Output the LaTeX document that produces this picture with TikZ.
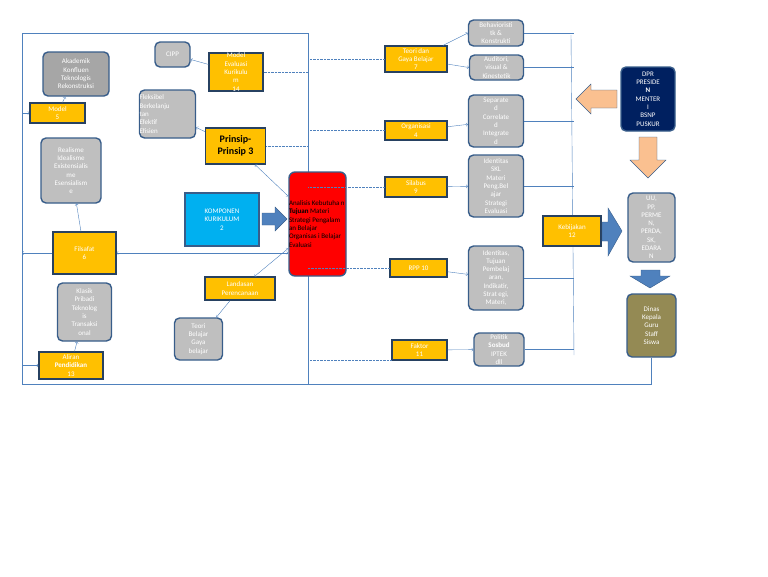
\documentclass[tikz,border=0pt]{standalone}
\usepackage{fontspec}
\setmainfont{Carlito}
\usepackage{tikz}
\usetikzlibrary{arrows}

\definecolor{kuning}{HTML}{FFC000}
\definecolor{abu}{HTML}{BFBFBF}
\definecolor{abutua}{HTML}{A6A6A6}
\definecolor{tepi}{HTML}{385D8A}
\definecolor{garis}{HTML}{4F81BD}
\definecolor{biru}{HTML}{00B0F0}
\definecolor{navy}{HTML}{002060}
\definecolor{zaitun}{HTML}{948A54}
\definecolor{persik}{HTML}{FAC090}

\newcommand{\kbox}[3]{\parbox[c][#2pt][c]{#1pt}{\centering #3}}

\begin{document}
\begin{tikzpicture}[x=1pt,y=-1pt,->,>=to,semithick,
    every node/.style={inner sep=0pt,font=\fontsize{7}{8.3}\selectfont,color=white},
    grey/.style={draw=tepi,line width=1.4pt,fill=abu,rounded corners=5pt},
    orange/.style={draw=tepi!70!black,line width=1.2pt,fill=kuning},
    link/.style={garis,thin},
    dots/.style={-,garis,thin,densely dotted},
    tree/.style={-,garis,thin},
    big/.style={-,draw=tepi,fill=garis,thin}]
\useasboundingbox (0,0) rectangle (768,576);
\coordinate (Fl) at (22,33);
\coordinate (Fr) at (308,384);
\coordinate (Vt) at (571,35);
\coordinate (Vb) at (574,355);
\draw[tree] (Fl) rectangle (Fr);
\draw[tree] (Vt) -- (Vb);
% kiri
\node[grey,fill=abutua] (Ak) at (76,74)  {\kbox{66}{44}{Akademik\\Konfluen\\Teknologis\\Rekonstruksi}};
\node[orange] (Mo) at (57.5,113) {\kbox{55}{20}{Model\\5}};
\node[grey] (Re) at (71,170.5) {\kbox{60}{65}{Realisme\\Idealisme\\Existensialis\\me\\Esensialism\\e}};
\node[orange] (Fi) at (84.5,253) {\kbox{63}{42}{Filsafat\\6}};
\node[grey] (Kl) at (84.5,312) {\kbox{54}{58}{Klasik\\Pribadi\\Teknolog\\is\\Transaksi\\onal}};
\node[orange] (Al) at (71,365.5) {\kbox{64}{27}{Aliran\\\textbf{Pendidikan}\\13}};
\node[grey] (CI) at (172.5,54.5) {\kbox{35}{25}{CIPP}};
\node[orange] (Ev) at (236,72) {\kbox{54}{38}{Model\\Evaluasi\\Kurikulu\\m\\14}};
\node[grey] (Fs) at (167.5,114) {\kbox{56}{48}{\raggedright Fleksibel\\Berkelanju\\tan\\Efektif\\Efisien}};
\node[orange] (Pr) at (235.5,146) {\kbox{60}{36}{\color{black}\fontsize{10}{12}\selectfont\bfseries Prinsip-\\Prinsip 3}};
\node[draw=tepi,line width=1.2pt,fill=biru] (Ko) at (222,219.5) {\kbox{74}{53}{KOMPONEN\\KURIKULUM\\2}};
\node[draw=tepi,line width=1.4pt,fill=red,rounded corners=6pt] (Rd) at (317.5,224)
  {\kbox{57}{104}{\color{black}\raggedright Analisis Kebutuha n \textbf{Tujuan} Materi Strategi Pengalam an Belajar Organisas i Belajar Evaluasi}};
\node[orange] (La) at (240,288.5) {\kbox{70}{23}{Landasan\\Perencanaan}};
\node[grey] (Te) at (198.5,339) {\kbox{48}{42}{Teori\\Belajar\\Gaya\\belajar}};
% kanan
\node[orange] (T7) at (416,59) {\kbox{62}{26}{Teori dan\\Gaya Belajar\\7}};
\node[grey] (Be) at (496,33) {\kbox{55}{26}{Behavioristi\\tk \&\\Konstrukti}};
\node[grey] (Au) at (496.5,67.5) {\kbox{54}{25}{Auditori,\\visual \&\\Kinestetik}};
\node[orange] (Or) at (416,130.5) {\kbox{62}{19}{Organisasi\\4}};
\node[grey] (Co) at (496,121) {\kbox{55}{52}{Separate\\d\\Correlate\\d\\Integrate\\d}};
\node[orange] (Si) at (416,187) {\kbox{62}{20}{Silabus\\9}};
\node[grey] (Id) at (496,186) {\kbox{55}{62}{Identitas\\SKL\\Materi\\Peng.Bel\\ajar\\Strategi\\Evaluasi}};
\node[orange] (Rp) at (418.5,268) {\kbox{57}{18}{RPP 10}};
\node[grey] (Tu) at (496,278) {\kbox{55}{64}{Identitas,\\Tujuan\\Pembelaj\\aran,\\Indikatir,\\Strat egi,\\Materi,}};
\node[orange] (Fa) at (419.5,350) {\kbox{55}{20}{Faktor\\11}};
\node[grey] (Po) at (499,349.5) {\kbox{50}{33}{Politik\\\textbf{Sosbud}\\IPTEK\\dll}};
\node[orange] (Kb) at (572,231) {\kbox{58}{30}{Kebijakan\\12}};
\node[grey,fill=navy] (DP) at (648,99) {\kbox{54}{64}{DPR\\PRESIDE\\\textbf{N}\\MENTER\\I\\BSNP\\PUSKUR}};
\node[grey] (UU) at (651.5,227.5) {\kbox{47}{69}{UU,\\PP,\\PERME\\N,\\PERDA,\\SK,\\EDARA\\N}};
\node[grey,fill=zaitun] (Di) at (651.5,325.5) {\kbox{49}{63}{Dinas\\Kepala\\Guru\\Staff\\Siswa}};
% panah tebal
\draw[big] (262,213) -- (275,213) -- (275,207) -- (287,219) -- (275,231) -- (275,225) -- (262,225) -- cycle;
\draw[big,fill=persik] (576,99) -- (591,84) -- (591,90) -- (617,90) -- (617,108) -- (591,108) -- (591,114) -- cycle;
\draw[big,fill=persik] (639,137) -- (657,137) -- (657,160) -- (666,160) -- (648,178) -- (630,160) -- (639,160) -- cycle;
\draw[big] (602,222) -- (608,222) -- (608,208) -- (622,231) -- (608,256) -- (608,241) -- (602,241) -- cycle;
\draw[big] (641,270) -- (660,270) -- (660,276) -- (670,276) -- (650,288) -- (630,276) -- (641,276) -- cycle;
% panah tipis
\draw[link] (Mo) -- (Ak);
\draw[link] (Fl |- Mo) -- (Mo);
\draw[link] (Fi) -- (Re);
\draw[link] (Fi) -- (Fl |- Fi);
\draw[link] (Fl |- Al) -- (Al);
\draw[link] (Al) -- (Kl);
\draw[link,<->] (Fi.east) -- (Rd.west |- Fi.east);
\draw[link] (Ev) -- (CI);
\draw[link] (Pr) -- (Fs);
\draw[link,<->] (Pr) -- (Rd);
\draw[link,<->] (Rd) -- (La);
\draw[link] (La) -- (Te);
\draw[link] (T7) -- (Be.west);
\draw[link] (T7) -- (Au.west);
\draw[link] (Or) -- (Co);
\draw[link] (Si) -- (Id);
\draw[link] (Rp) -- (Tu);
\draw[link] (Fa) -- (Po);
% garis titik
\draw[dots] (Ev.east) -- (Ev.east -| Fr);
\draw[dots] (Pr.east) -- (Pr.east -| Fr);
\foreach \n in {T7,Or,Si,Rp} \draw[dots] (\n.west) -- (\n.west -| Fr);
\draw[dots] (Fa.south west) -- (Fa.south west -| Fr);
% garis kanan
\foreach \n in {Be,Au,Co,Id,Tu,Po} \draw[tree] (\n.east) -- (\n.east -| Vb);
\draw[tree] (Di.south) |- (Fr);
\end{tikzpicture}
\end{document}
